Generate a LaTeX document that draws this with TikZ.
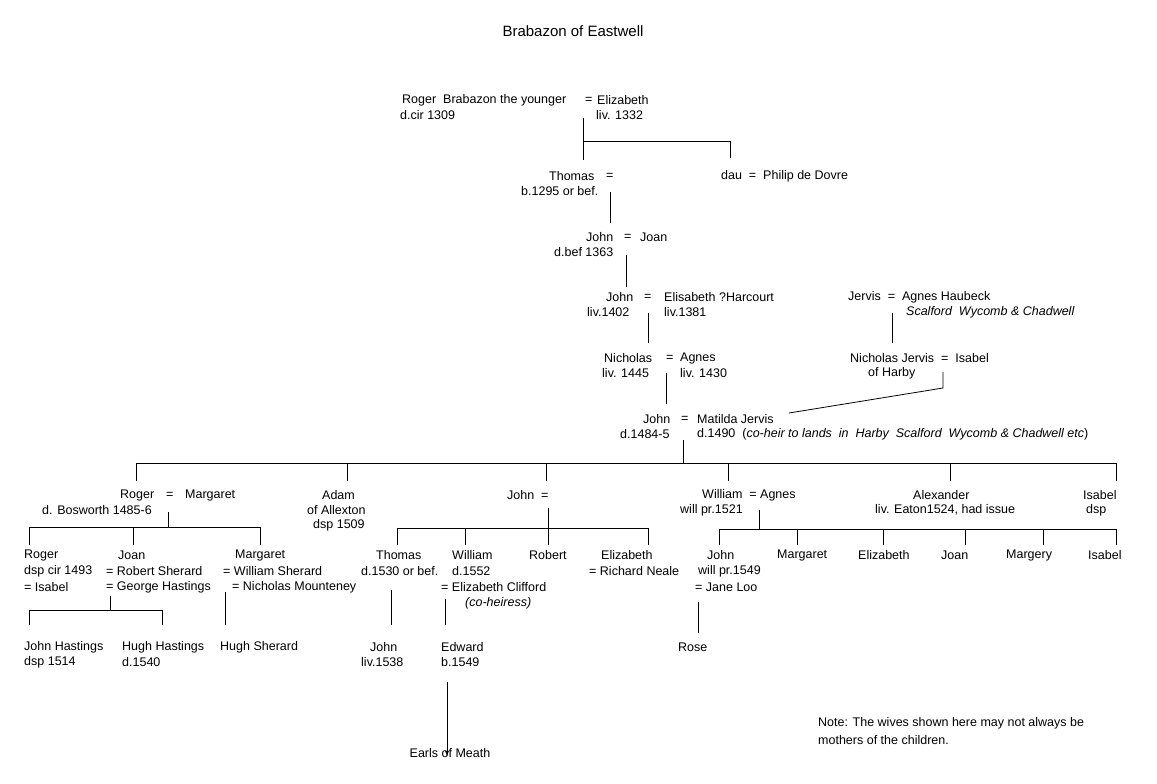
\documentclass[tikz,border=0pt]{standalone}
\usepackage{fontspec}
\setmainfont{Liberation Sans}
\usetikzlibrary{positioning}
\usetikzlibrary{arrows}

\begin{document}
\begin{tikzpicture}[
    x=1pt, y=-1pt,
    >=latex,
    % node styles
    per/.style = {
      anchor=west,
      inner sep=0pt,
      font=\fontsize{12.5}{14}\selectfont
    },
    it/.style = {per, font=\fontsize{12.5}{14}\selectfont\itshape},
    % line styles
    line/.style = {line width=0.8pt, draw=black}
  ]
  \useasboundingbox (0,0) rectangle (1157,784);

  % --- Title
  \node[per, anchor=center, font=\fontsize{15}{17}\selectfont] (title) at (573,31) {Brabazon of Eastwell};

  % --- Roger the younger
  \node[per] (rog) at (402,100) {Roger\ \ Brabazon the younger};
  \node[per] (rogeq) at (585,100) {=};
  \node[per] (eliz) at (597,100) {Elizabeth};
  \node[per] (rogd) at (400,115) {d.cir 1309};
  \node[per] (elizd) at (596,115) {liv. 1332};
  \coordinate (c1a) at (583,118);
  \coordinate (c1b) at (583,141);
  \coordinate (c1c) at (583,160);
  \coordinate (c1d) at (730,141);
  \coordinate (c1e) at (730,158);
  \draw[line] (c1a) -- (c1c);
  \draw[line] (c1b) -- (c1d) -- (c1e);

  % --- Thomas / dau
  \node[per] (thos) at (549,176) {Thomas};
  \node[per] (thoseq) at (606,176) {=};
  \node[per] (thosd) at (521,191) {b.1295 or bef.};
  \node[per] (dau) at (721,176) {dau\ \ =\ \ Philip de Dovre};
  \coordinate (c2a) at (610,192);
  \coordinate (c2b) at (610,223);
  \draw[line] (c2a) -- (c2b);

  % --- John = Joan
  \node[per] (john1) at (586,237) {John};
  \node[per] (john1eq) at (624,237) {=};
  \node[per] (joan) at (640,237) {Joan};
  \node[per] (john1d) at (554,252) {d.bef 1363};
  \coordinate (c3a) at (626,255);
  \coordinate (c3b) at (626,287);
  \draw[line] (c3a) -- (c3b);

  % --- John = Elisabeth
  \node[per] (john2) at (606,297) {John};
  \node[per] (john2eq) at (644,297) {=};
  \node[per] (elis) at (664,297) {Elisabeth ?Harcourt};
  \node[per] (john2d) at (587,312) {liv.1402};
  \node[per] (elisd) at (664,312) {liv.1381};
  \coordinate (c4a) at (648,313);
  \coordinate (c4b) at (648,343);
  \draw[line] (c4a) -- (c4b);

  % --- Jervis
  \node[per] (jerv) at (848,297) {Jervis\ \ =\ \ Agnes Haubeck};
  \node[it] (jervd) at (906,312) {Scalford\ \ Wycomb \& Chadwell};
  \coordinate (c5a) at (892,313);
  \coordinate (c5b) at (892,343);
  \draw[line] (c5a) -- (c5b);

  % --- Nicholas = Agnes
  \node[per] (nich) at (604,358) {Nicholas};
  \node[per] (nicheq) at (666,358) {=};
  \node[per] (agn) at (680,358) {Agnes};
  \node[per] (nichd) at (602,373) {liv. 1445};
  \node[per] (agnd) at (680,373) {liv. 1430};
  \coordinate (c6a) at (666,373);
  \coordinate (c6b) at (666,404);
  \draw[line] (c6a) -- (c6b);

  % --- Nicholas Jervis = Isabel
  \node[per] (njerv) at (850,358) {Nicholas Jervis\ \ =\ \ Isabel};
  \node[per] (njervd) at (868,373) {of Harby};
  \coordinate (c7a) at (943,372);
  \coordinate (c7b) at (943,388);
  \coordinate (c7c) at (789,413);
  \draw[line] (c7a) -- (c7b) -- (c7c);

  % --- John = Matilda Jervis
  \node[per] (john3) at (643,419) {John};
  \node[per] (john3eq) at (681,419) {=};
  \node[per] (mat) at (697,419) {Matilda Jervis};
  \node[per] (john3d) at (620,434) {d.1484-5};
  \node[per] (matd) at (697,434) {d.1490\ \ (\textit{co-heir to lands\ \ in\ \ Harby\ \ Scalford\ \ Wycomb \& Chadwell etc})};
  \coordinate (c8a) at (683,440);
  \coordinate (c8b) at (683,463);
  \coordinate (c8l) at (136,463);
  \coordinate (c8r) at (1116,463);
  \draw[line] (c8a) -- (c8b);
  \draw[line] (c8l) -- (c8r);
  \foreach \xx in {136,347,546,728,950,1116}
    \draw[line] (\xx,463) -- (\xx,481);

  % --- Roger = Margaret
  \node[per] (rog2) at (120,495) {Roger};
  \node[per] (rog2eq) at (166,495) {=};
  \node[per] (marg) at (185,495) {Margaret};
  \node[per] (rog2d) at (42,510) {d. Bosworth 1485-6};
  \coordinate (c9a) at (168,512);
  \coordinate (c9b) at (168,527);
  \coordinate (c9l) at (29,527);
  \coordinate (c9r) at (260,527);
  \draw[line] (c9a) -- (c9b);
  \draw[line] (c9l) -- (c9r);
  \foreach \xx in {29,133,260}
    \draw[line] (\xx,527) -- (\xx,545);

  % --- Adam
  \node[per] (adam) at (322,495) {Adam};
  \node[per] (adamb) at (307,510) {of Allexton};
  \node[per] (adamd) at (313,525) {dsp 1509};

  % --- John =
  \node[per] (john4) at (507,495) {John\ \ =};
  \coordinate (c10a) at (548,508);
  \coordinate (c10b) at (548,545);
  \coordinate (c10l) at (397,528);
  \coordinate (c10r) at (648,528);
  \draw[line] (c10a) -- (c10b);
  \draw[line] (c10l) -- (c10r);
  \foreach \xx in {397,465,648}
    \draw[line] (\xx,528) -- (\xx,545);

  % --- William = Agnes
  \node[per] (will) at (702,495) {William\ \ = Agnes};
  \node[per] (willd) at (680,510) {will pr.1521};
  \coordinate (c11a) at (759,510);
  \coordinate (c11b) at (759,529);
  \coordinate (c11l) at (719,529);
  \coordinate (c11r) at (1116,529);
  \draw[line] (c11a) -- (c11b);
  \draw[line] (c11l) -- (c11r);
  \foreach \xx in {719,797,883,965,1043,1116}
    \draw[line] (\xx,529) -- (\xx,545);

  % --- Alexander, Isabel
  \node[per] (alex) at (913,495) {Alexander};
  \node[per] (alexd) at (875,510) {liv. Eaton1524, had issue};
  \node[per] (isab) at (1083,495) {Isabel};
  \node[per] (isabd) at (1086,510) {dsp};

  % --- grandchildren of Roger
  \node[per] (rog3) at (24,555) {Roger};
  \node[per] (rog3d) at (24,571) {dsp cir 1493};
  \node[per] (rog3w) at (24,587) {= Isabel};
  \node[per] (joan2) at (118,555) {Joan};
  \node[per] (joan2h) at (106,571) {= Robert Sherard};
  \node[per] (joan2g) at (106,587) {= George Hastings};
  \node[per] (marg2) at (235,555) {Margaret};
  \node[per] (marg2h) at (223,571) {= William Sherard};
  \node[per] (marg2n) at (232,587) {= Nicholas Mounteney};
  \coordinate (c12a) at (110,596);
  \coordinate (c12b) at (110,610);
  \coordinate (c12l) at (29,610);
  \coordinate (c12r) at (162,610);
  \draw[line] (c12a) -- (c12b);
  \draw[line] (c12l) -- (c12r);
  \foreach \xx in {29,162}
    \draw[line] (\xx,610) -- (\xx,625);
  \coordinate (c13a) at (225,592);
  \coordinate (c13b) at (225,625);
  \draw[line] (c13a) -- (c13b);
  \node[per] (jhast) at (24,647) {John Hastings};
  \node[per] (jhastd) at (24,662) {dsp 1514};
  \node[per] (hhast) at (122,647) {Hugh Hastings};
  \node[per] (hhastd) at (122,662) {d.1540};
  \node[per] (hsher) at (220,647) {Hugh Sherard};

  % --- grandchildren of John
  \node[per] (thos2) at (376,555) {Thomas};
  \node[per] (thos2d) at (361,571) {d.1530 or bef.};
  \node[per] (will2) at (452,555) {William};
  \node[per] (will2d) at (452,571) {d.1552};
  \node[per] (will2w) at (441,587) {= Elizabeth Clifford};
  \node[it] (will2c) at (465,603) {(co-heiress)};
  \node[per] (rob) at (529,555) {Robert};
  \node[per] (eliz2) at (601,555) {Elizabeth};
  \node[per] (eliz2h) at (589,571) {= Richard Neale};
  \coordinate (c14a) at (391,590);
  \coordinate (c14b) at (391,625);
  \draw[line] (c14a) -- (c14b);
  \coordinate (c15a) at (445,599);
  \coordinate (c15b) at (445,625);
  \draw[line] (c15a) -- (c15b);
  \node[per] (john5) at (370,647) {John};
  \node[per] (john5d) at (361,662) {liv.1538};
  \node[per] (edw) at (441,647) {Edward};
  \node[per] (edwd) at (441,662) {b.1549};
  \coordinate (c16a) at (447,682);
  \node[per, anchor=center] (meath) at (450,753) {Earls of Meath};
  \draw[line, ->] (c16a) -- ([yshift=-8pt]meath.north -| c16a);

  % --- grandchildren of William
  \node[per] (john6) at (707,555) {John};
  \node[per] (john6d) at (698,571) {will pr.1549};
  \node[per] (john6w) at (695,587) {= Jane Loo};
  \coordinate (c17a) at (698,602);
  \coordinate (c17b) at (698,633);
  \draw[line] (c17a) -- (c17b);
  \node[per] (rose) at (678,647) {Rose};
  \node[per] (marg3) at (777,555) {Margaret};
  \node[per] (eliz3) at (858,555) {Elizabeth};
  \node[per] (joan3) at (941,555) {Joan};
  \node[per] (margy) at (1006,555) {Margery};
  \node[per] (isab2) at (1088,555) {Isabel};

  % --- Note
  \node[per] (note1) at (818,723) {Note: The wives shown here may not always be};
  \node[per] (note2) at (818,740) {mothers of the children.};
\end{tikzpicture}
\end{document}
